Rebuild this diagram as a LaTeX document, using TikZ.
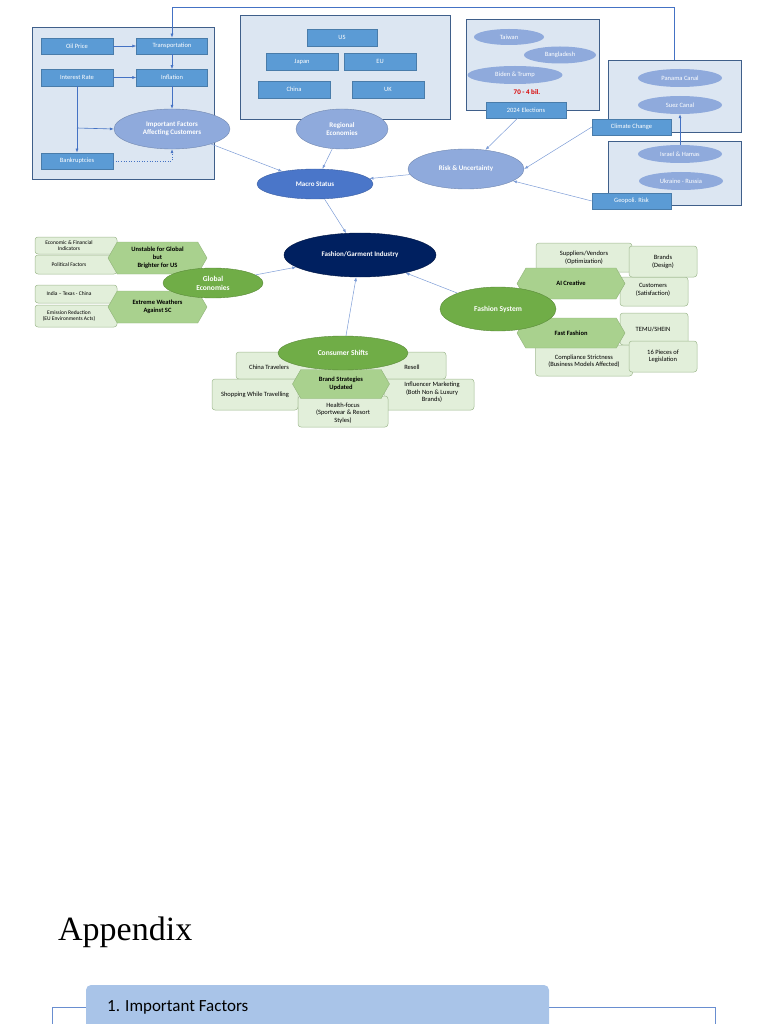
\documentclass[tikz,border=0pt]{standalone}
\usepackage{fontspec}
\setmainfont{Carlito}
\newfontfamily\timesf{Liberation Serif}
\usetikzlibrary{shapes.geometric,shapes.symbols,arrows.meta}
\definecolor{pbg}{HTML}{DCE6F2}
\definecolor{pbd}{HTML}{3F5F8A}
\definecolor{rblue}{HTML}{5B9BD5}
\definecolor{eblue}{HTML}{8FAADC}
\definecolor{mblue}{HTML}{4A76C9}
\definecolor{navy}{HTML}{002060}
\definecolor{gell}{HTML}{70AD47}
\definecolor{gchev}{HTML}{A9D18E}
\definecolor{gbox}{HTML}{E2EFDA}
\definecolor{gbd}{HTML}{9FB98F}
\definecolor{lnk}{HTML}{4472C4}
\definecolor{tab}{HTML}{A9C4E8}
\tikzset{
 x=1pt,y=1pt,
 panel/.style={draw=pbd,fill=pbg,line width=0.8pt},
 rbox/.style={rectangle,fill=rblue,draw=rblue!80!black,line width=0.3pt,text=white,inner sep=0,font=\fontsize{6.5}{7.5}\selectfont,minimum width=72,minimum height=16.5},
 sell/.style={ellipse,fill=eblue,text=white,inner sep=0,font=\fontsize{6.5}{7.5}\selectfont},
 bell/.style={ellipse,fill=eblue,draw=eblue!80!black,text=white,inner sep=0,align=center,font=\bfseries\fontsize{7}{8}\selectfont},
 gel/.style={ellipse,fill=gell,draw=gell!80!black,text=white,inner sep=0,align=center,font=\bfseries\fontsize{7.5}{9}\selectfont},
 lbox/.style={rectangle,rounded corners=3,fill=gbox,draw=gbd,line width=0.5pt,inner sep=0},
 ltxt/.style={align=center,inner sep=0,font=\fontsize{6.5}{7.5}\selectfont},
 stxt/.style={align=center,inner sep=0,font=\fontsize{5.5}{6.5}\selectfont},
 chev/.style={signal,signal to=east and west,signal pointer angle=120,fill=gchev,draw=gchev!85!black,inner sep=0,align=center,font=\bfseries\fontsize{6.5}{8}\selectfont},
 arr/.style={draw=lnk,line width=0.6pt,-{Latex[length=4pt,width=3pt]}},
 tarr/.style={draw=lnk!70,line width=0.5pt,-{Latex[length=4pt,width=3pt]}},
}
\begin{document}
\begin{tikzpicture}
\useasboundingbox (0,0) rectangle (768,-1024);
% panels
\draw[panel] (32,-27) rectangle (214,-179);
\draw[panel] (240,-15) rectangle (450,-119);
\draw[panel] (466,-19) rectangle (599,-110);
\draw[panel] (608,-60) rectangle (741,-132);
\draw[panel] (608,-141) rectangle (741,-205);
% panel 1
\node[rbox] (oil) at (77,-46) {Oil Price};
\node[rbox,minimum width=71] (tr) at (172,-46) {Transportation};
\node[rbox] (ir) at (77,-77.5) {Interest Rate};
\node[rbox,minimum width=71] (inf) at (172,-77.5) {Inflation};
\node[rbox] (bk) at (77,-161) {Bankruptcies};
\node[bell,minimum width=116,minimum height=40] (imp) at (172,-129) {Important Factors\\Affecting Customers};
\draw[arr] (oil) -- (tr);
\draw[arr] (tr) -- (inf);
\draw[arr] (ir) -- (inf);
\draw[arr] (inf) -- (imp);
\draw[arr] (ir) -- (bk);
\coordinate (br) at (77,-128);
\draw[arr] (br) -- (imp.west);
\draw[lnk,line width=0.6pt,dotted,-{Latex[length=4pt,width=3pt]}] (bk.east) -- (172,-161) -- (imp.south);
% panel 2
\node[rbox,minimum width=70] (us) at (342,-37.5) {US};
\node[rbox] (jp) at (302,-61.5) {Japan};
\node[rbox] (eu) at (380,-61.5) {EU};
\node[rbox] (cn) at (294,-89.5) {China};
\node[rbox] (uk) at (388,-89.5) {UK};
\node[bell,minimum width=92,minimum height=40] (reg) at (342,-129) {Regional\\Economies};
\node[ellipse,fill=mblue,draw=mblue!80!black,text=white,inner sep=0,font=\bfseries\fontsize{7}{8}\selectfont,minimum width=116,minimum height=30] (mac) at (315,-184) {Macro Status};
% panel 3
\node[sell,minimum width=70,minimum height=16] (tw) at (509,-37) {Taiwan};
\node[sell,minimum width=72,minimum height=17] (bd) at (560,-55) {Bangladesh};
\node[sell,minimum width=95,minimum height=18] (bt) at (515,-75) {Biden \& Trump};
\node[text=red!85!black,font=\bfseries\fontsize{7}{8}\selectfont,inner sep=0] (bil) at (527,-92) {70 - 4 bil.};
\node[rbox,minimum width=80] (el) at (526,-110) {2024 Elections};
\node[bell,minimum width=116,minimum height=40] (risk) at (466,-169) {Risk \& Uncertainty};
% panel 4,5
\node[sell,minimum width=84,minimum height=18] (pan) at (680,-78) {Panama Canal};
\node[sell,minimum width=84,minimum height=18] (suez) at (680,-105) {Suez Canal};
\node[rbox,minimum width=79] (cc) at (631.5,-127) {Climate Change};
\node[sell,minimum width=84,minimum height=18] (isr) at (680,-154) {Israel \& Hamas};
\node[sell,minimum width=84,minimum height=18] (ukr) at (681,-181) {Ukraine - Russia};
\node[rbox,minimum width=79] (geo) at (631.5,-201) {Geopoli. Risk};
\draw[arr] (isr) -- (suez);
\coordinate (tp) at (674,-60);
\draw[arr] (tp) -- (674,-7) -- (172,-7) -- (tr.north);
\draw[tarr] (el) -- (risk);
\draw[tarr] (cc.west) -- (risk.east);
\draw[tarr] (geo.west) -- (risk);
\draw[tarr] (imp) -- (mac);
\draw[tarr] (reg) -- (mac);
\draw[tarr] (risk) -- (mac);
% center
\node[ellipse,fill=navy,draw=navy!70!black,text=white,inner sep=0,font=\bfseries\fontsize{7}{8}\selectfont,minimum width=152,minimum height=44] (fgi) at (360,-255) {Fashion/Garment Industry};
\draw[tarr] (mac) -- (fgi);
% global economies
\node[lbox,minimum width=82,minimum height=17] (econ) at (76,-245.5) {};
\node[lbox,minimum width=82,minimum height=19] (pol) at (76,-264.5) {};
\node[lbox,minimum width=82,minimum height=18] (ind) at (76,-294) {};
\node[lbox,minimum width=82,minimum height=22] (emi) at (76,-316) {};
\node[stxt] (teco) at (69,-245.5) {Economic \& Financial\\Indicators};
\node[stxt] (tpol) at (69,-265) {Political Factors};
\node[stxt] (tind) at (69,-294) {India -- Texas - China};
\node[stxt] (temi) at (69,-316) {Emission Reduction\\(EU Environments Acts)};
\node[chev,minimum width=99,minimum height=32] (uns) at (157.5,-258) {Unstable for Global\\but\\Brighter for US};
\node[chev,minimum width=99,minimum height=32] (ext) at (157.5,-307) {Extreme Weathers\\Against SC};
\node[gel,minimum width=100,minimum height=30] (glob) at (213,-283) {Global\\Economies};
\draw[tarr] (glob) -- (fgi);
% consumer shifts
\node[lbox,minimum width=80,minimum height=27] (ctr) at (276,-365.5) {};
\node[lbox,minimum width=80,minimum height=27] (res) at (406,-365.5) {};
\node[lbox,minimum width=86,minimum height=31] (shp) at (255,-394.5) {};
\node[lbox,minimum width=90,minimum height=31] (infl) at (429,-394.5) {};
\node[lbox,minimum width=90,minimum height=31] (hlt) at (343,-411.5) {};
\node[ltxt] (tctr) at (269,-367) {China Travelers};
\node[ltxt] (tres) at (412,-367) {Resell};
\node[ltxt] (tshp) at (255,-395) {Shopping While Travelling};
\node[ltxt] (tinfl) at (432,-392.5) {Influencer Marketing\\(Both Non \& Luxury\\Brands)};
\node[chev,minimum width=97,minimum height=29] (brs) at (341,-384) {Brand Strategies\\Updated};
\node[ltxt] (thlt) at (343,-413) {Health-focus\\(Sportwear \& Resort\\Styles)};
\node[gel,minimum width=130,minimum height=34] (cons) at (343,-353) {Consumer Shifts};
\draw[tarr] (cons) -- (fgi);
% fashion system
\node[lbox,minimum width=96,minimum height=29] (sup) at (584,-257.5) {};
\node[lbox,minimum width=68,minimum height=29] (cus) at (654,-291.5) {};
\node[lbox,minimum width=68,minimum height=31] (brd) at (663,-261.5) {};
\node[ltxt] (tsup) at (584,-258) {Suppliers/Vendors\\(Optimization)};
\node[ltxt] (tbrd) at (663,-262) {Brands\\(Design)};
\node[ltxt] (tcus) at (653,-290) {Customers\\(Satisfaction)};
\node[chev,minimum width=108,minimum height=31] (ai) at (571,-283.5) {AI Creative};
\node[lbox,minimum width=68,minimum height=32] (tem) at (654,-329) {};
\node[lbox,minimum width=97,minimum height=31] (cmp) at (584,-360.5) {};
\node[lbox,minimum width=68,minimum height=31] (leg) at (663,-356.5) {};
\node[ltxt] (ttem) at (653,-329) {TEMU/SHEIN};
\node[ltxt] (tcmp) at (584,-361) {Compliance Strictness\\(Business Models Affected)};
\node[ltxt] (tleg) at (663,-356.5) {16 Pieces of\\Legislation};
\node[chev,minimum width=108,minimum height=30] (ff) at (571,-333) {Fast Fashion};
\node[gel,minimum width=116,minimum height=44] (fs) at (498,-309) {Fashion System};
\draw[tarr] (fs) -- (fgi);
% appendix
\node[anchor=west,inner sep=0,font=\timesf\fontsize{34}{40}\selectfont] (app) at (58,-932) {Appendix};
\coordinate (l1) at (52,-1024);
\coordinate (l2) at (715,-1024);
\draw[draw=lnk!80,line width=0.8pt] (l1) -- (52,-1007) -- (715,-1007) -- (l2);
\node[rectangle,rounded corners=5,fill=tab,inner sep=0,minimum width=463,minimum height=50] (tabn) at (317.5,-1010) {};
\node[anchor=west,inner sep=0,font=\fontsize{17}{20}\selectfont] (tabt) at (107,-1007) {1. Important Factors};
\end{tikzpicture}
\end{document}
